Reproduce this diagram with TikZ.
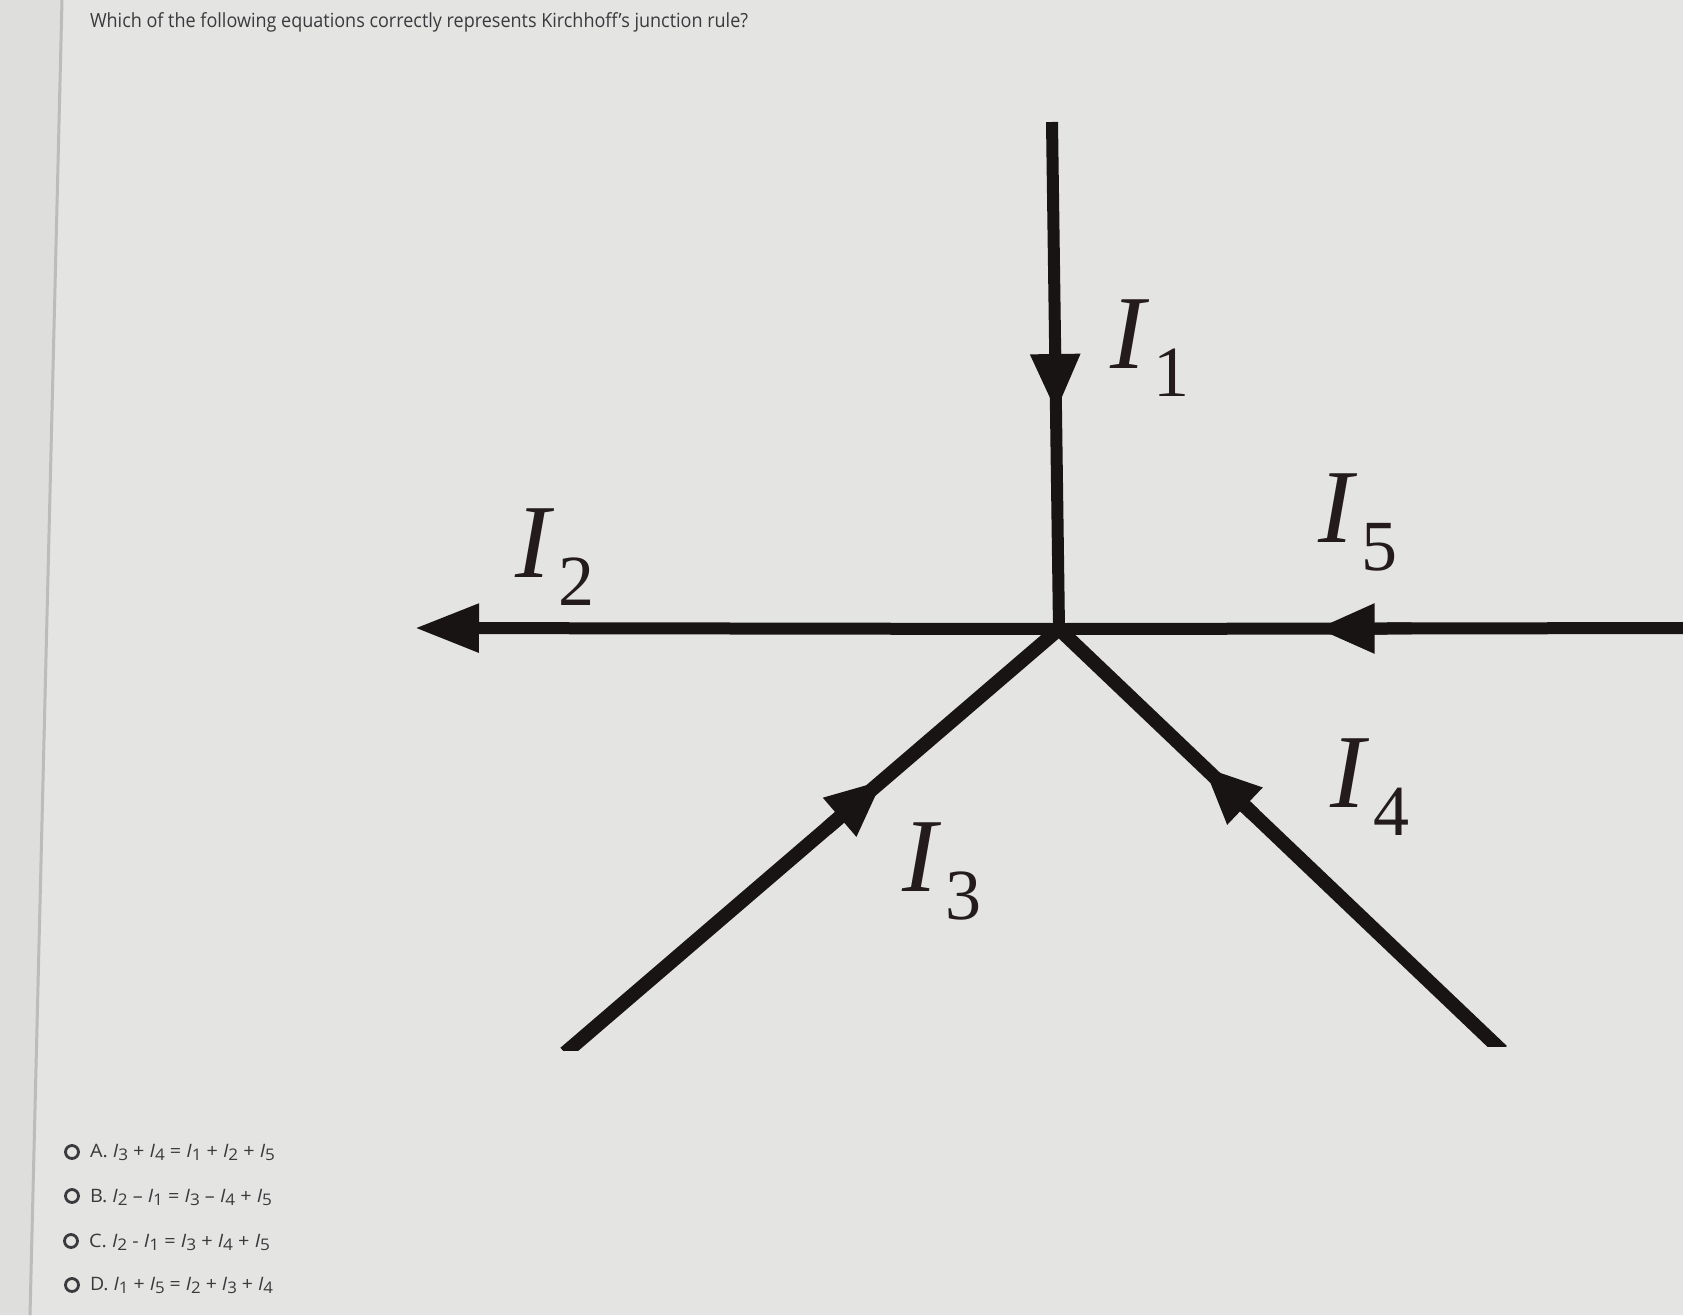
\documentclass[tikz,border=0pt]{standalone}
\usepackage{fontspec}
\setmainfont{Liberation Serif}
\newfontfamily\uifont{Open Sans}
\usetikzlibrary{arrows.meta,calc}
\definecolor{bg}{RGB}{228,228,226}
\definecolor{strip}{RGB}{222,222,220}
\definecolor{border}{RGB}{188,188,188}
\definecolor{wirec}{RGB}{24,20,20}
\definecolor{labc}{RGB}{36,28,28}
\definecolor{uitext}{RGB}{58,58,62}
\newcommand\lbl[1]{{\fontsize{105}{105}\selectfont\itshape I}\hspace{9pt}\raisebox{-28pt}{\fontsize{72}{72}\selectfont #1}}
\newcommand\oi[1]{{\itshape I}\raisebox{-3.5pt}{\fontsize{16}{16}\selectfont #1}}
\newcommand\opt[2]{\resizebox{#1pt}{\height}{\uifont\fontsize{18.5}{18.5}\selectfont #2}}
\tikzset{
  wire/.style={line width=12pt, draw=wirec, line cap=butt},
  diag/.style={line width=14pt, draw=wirec, line cap=butt},
  tri/.style={-{Triangle[length=58pt,width=47pt]}},
  trilong/.style={-{Triangle[length=64pt,width=46pt]}},
  lab/.style={anchor=base west, inner sep=0pt, outer sep=0pt, text=labc},
  uitxt/.style={anchor=base west, inner sep=0pt, outer sep=0pt, text=uitext},
  radio/.style={circle, draw=uitext, line width=2.8pt, minimum size=13pt, inner sep=0pt}
}
\begin{document}
\begin{tikzpicture}[x=1pt,y=-1pt]
\useasboundingbox (0,0) rectangle (1683,1315);
\fill[bg] (0,0) rectangle (1683,1315);
\fill[strip] (0,0) -- (62,0) -- (30,1315) -- (0,1315) -- cycle;
\draw[border, line width=3pt] (62,0) -- (30,1315);

% title
\node[uitxt] (title) at (90,27) {\resizebox{658pt}{\height}{\uifont\fontsize{19.5}{19.5}\selectfont Which of the following equations correctly represents Kirchhoff’s junction rule?}};

% junction geometry
\coordinate (J) at (1059,629);
\coordinate (T) at (1052,122);
\coordinate (Lend) at (415,628);
\coordinate (Rend) at (1700,628);
\coordinate (LL) at (565,1053);
\coordinate (LR) at (1502,1051);

% wires
\begin{scope}
\clip (0,0) rectangle (1683,1050);
\draw[diag] (LL) -- (J);
\end{scope}
\begin{scope}
\clip (0,0) rectangle (1683,1046);
\draw[diag] (LR) -- (J);
\end{scope}
\draw[wire] (T) -- (J);
\draw[wire, trilong] (Rend) -- (J) -- (Lend);

% mid-wire arrowheads
\draw[wire, tri] ($(T)!0.45!(J)$) -- ($(T)!0.572!(J)$);
\draw[wire, tri] ($(Rend)!0.45!(J)$) -- ($(Rend)!0.598!(J)$);
\draw[diag, tri] ($(LL)!0.53!(J)$) -- ($(LL)!0.645!(J)$);
\draw[diag, tri] ($(LR)!0.56!(J)$) -- ($(LR)!0.675!(J)$);

% labels
\node[lab] (l1) at (1110,368) {\lbl{1}};
\node[lab] (l2) at (515,577) {\lbl{2}};
\node[lab] (l3) at (902,891) {\lbl{3}};
\node[lab] (l4) at (1330,807) {\lbl{4}};
\node[lab] (l5) at (1318,542) {\lbl{5}};

% answer options
\node[radio] (rA) at (72,1152) {};
\node[radio] (rB) at (72,1196) {};
\node[radio] (rC) at (71,1241) {};
\node[radio] (rD) at (72,1285) {};
\node[uitxt] (oA) at (90,1157) {\opt{185}{A. \oi{3} + \oi{4} = \oi{1} + \oi{2} + \oi{5}}};
\node[uitxt] (oB) at (90,1202) {\opt{182}{B. \oi{2} – \oi{1} = \oi{3} – \oi{4} + \oi{5}}};
\node[uitxt] (oC) at (89,1247) {\opt{181}{C. \oi{2} - \oi{1} = \oi{3} + \oi{4} + \oi{5}}};
\node[uitxt] (oD) at (90,1290) {\opt{183}{D. \oi{1} + \oi{5} = \oi{2} + \oi{3} + \oi{4}}};
\end{tikzpicture}
\end{document}
